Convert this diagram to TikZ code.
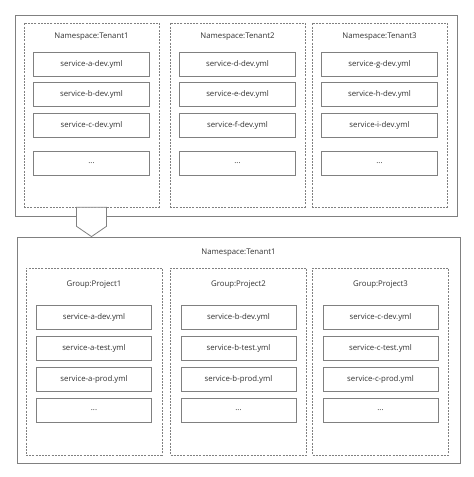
\documentclass[tikz,border=0pt]{standalone}
\usepackage{fontspec}
\setmainfont{Open Sans}
\usepackage{tikz}
\usetikzlibrary{positioning}
\definecolor{LGray}{RGB}{128,128,128}
\definecolor{TGray}{RGB}{50,50,50}

\tikzset{
  outerbox/.style={draw=LGray, line width=0.8pt, fill=white, inner sep=0pt},
  groupbox/.style={draw=LGray, line width=0.6pt, dash pattern=on 2pt off 1.2pt, inner sep=0pt},
  filebox/.style={draw=LGray, line width=0.7pt, minimum height=24pt, inner sep=0pt,
    font=\fontsize{7.8}{9}\selectfont, text=TGray},
  titletext/.style={font=\fontsize{7.8}{9}\selectfont, text=TGray, inner sep=0pt}
}

\begin{document}
\begin{tikzpicture}[x=1pt, y=-1pt]
  \useasboundingbox (0,0) rectangle (474,477);

  % before: one namespace per tenant
  \node[outerbox, minimum width=442pt, minimum height=201pt] (before) at (236,115.5) {};
  \foreach \i/\cx/\a/\b/\c in {1/91.5/a/b/c, 2/237.5/d/e/f, 3/379.5/g/h/i} {
    \node[groupbox, minimum width=135pt, minimum height=184pt] (ns\i) at (\cx,115) {};
    \node[titletext, below=10pt of ns\i.north] (nst\i) {Namespace:Tenant\i};
    \node[filebox, minimum width=116pt] (s\i a) at (\cx,64) {service-\a-dev.yml};
    \node[filebox, minimum width=116pt] (s\i b) at (\cx,94.5) {service-\b-dev.yml};
    \node[filebox, minimum width=116pt] (s\i c) at (\cx,125) {service-\c-dev.yml};
    \node[filebox, minimum width=116pt] (s\i d) at (\cx,163) {...};
  }

  % after: one namespace, one group per project
  \node[outerbox, minimum width=443pt, minimum height=226pt] (after) at (238.5,350) {};
  \node[titletext, below=12pt of after.north] (aftert) {Namespace:Tenant1};
  \foreach \i/\cx/\p in {1/94/a, 2/238.5/b, 3/380.5/c} {
    \node[groupbox, minimum width=136pt, minimum height=187pt] (grp\i) at (\cx,361.5) {};
    \node[titletext, below=13pt of grp\i.north] (grpt\i) {Group:Project\i};
    \node[filebox, minimum width=115pt] (f\i a) at (\cx,317) {service-\p-dev.yml};
    \node[filebox, minimum width=115pt] (f\i b) at (\cx,348) {service-\p-test.yml};
    \node[filebox, minimum width=115pt] (f\i c) at (\cx,379) {service-\p-prod.yml};
    \node[filebox, minimum width=115pt] (f\i d) at (\cx,410) {...};
  }

  % block arrow from the first tenant down to the merged namespace
  \draw[outerbox] ([xshift=-15pt]ns1.south) -- ([xshift=15pt]ns1.south)
    -- ++(0,19) -- (ns1.south |- after.north) -- ([xshift=-15pt,yshift=-19pt]ns1.south) -- cycle;
\end{tikzpicture}
\end{document}
